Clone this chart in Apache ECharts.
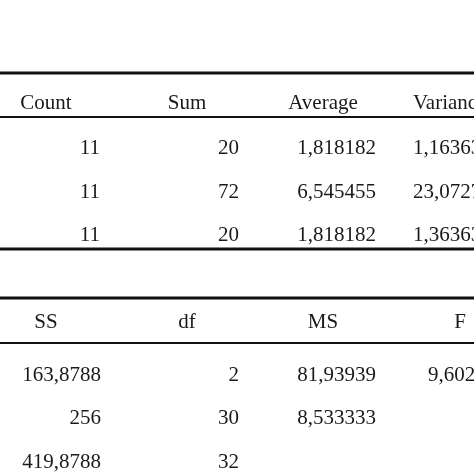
<!DOCTYPE html>
<html><head><meta charset="utf-8">
<script src="https://cdn.jsdelivr.net/npm/echarts@6/dist/echarts.min.js"></script>
<style>html,body{margin:0;padding:0;background:#fff}#c{width:474px;height:474px}</style>
</head><body><div id="c"></div>
<script>
var headers1 = ["Count","Sum","Average","Variance"];
var count = ["11","11","11"];
var sum = ["20","72","20"];
var average = ["1,818182","6,545455","1,818182"];
var variance = ["1,163636","23,07273","1,363636"];
var headers2 = ["SS","df","MS","F"];
var ss = ["163,8788","256","419,8788"];
var df = ["2","30","32"];
var ms = ["81,93939","8,533333",""];
var fval = ["9,602273","",""];

var font = '21px "Liberation Serif", "DejaVu Serif", serif';
var els = [];
function line(y, w){ els.push({type:'rect', shape:{x:0,y:y-w/2,width:474,height:w}, style:{fill:'#111'}}); }
function txt(s, x, y, align){ els.push({type:'text', x:x, y:y, style:{text:s, font:font, fill:'#1a1a1a', align:align, verticalAlign:'middle'}}); }

line(73,3); line(117,2); line(249,3);
var hx = [46,187,323];
headers1.slice(0,3).forEach(function(h,i){ txt(h, hx[i], 103, 'center'); });
txt(headers1[3], 413, 103, 'left');
var ry1 = [148,192,235];
ry1.forEach(function(y,i){
  txt(count[i],100,y,'right'); txt(sum[i],239,y,'right'); txt(average[i],376,y,'right'); txt(variance[i],413,y,'left');
});

line(298,3); line(343,2);
headers2.slice(0,3).forEach(function(h,i){ txt(h, hx[i], 322, 'center'); });
txt(headers2[3], 460, 322, 'center');
var ry2 = [375,418,462];
ry2.forEach(function(y,i){
  txt(ss[i],101,y,'right'); txt(df[i],239,y,'right'); if(ms[i]) txt(ms[i],376,y,'right'); if(fval[i]) txt(fval[i],428,y,'left');
});

var chart = echarts.init(document.getElementById('c'));
chart.setOption({animation:false, backgroundColor:'#fff', graphic:{elements:els}});
</script></body></html>
